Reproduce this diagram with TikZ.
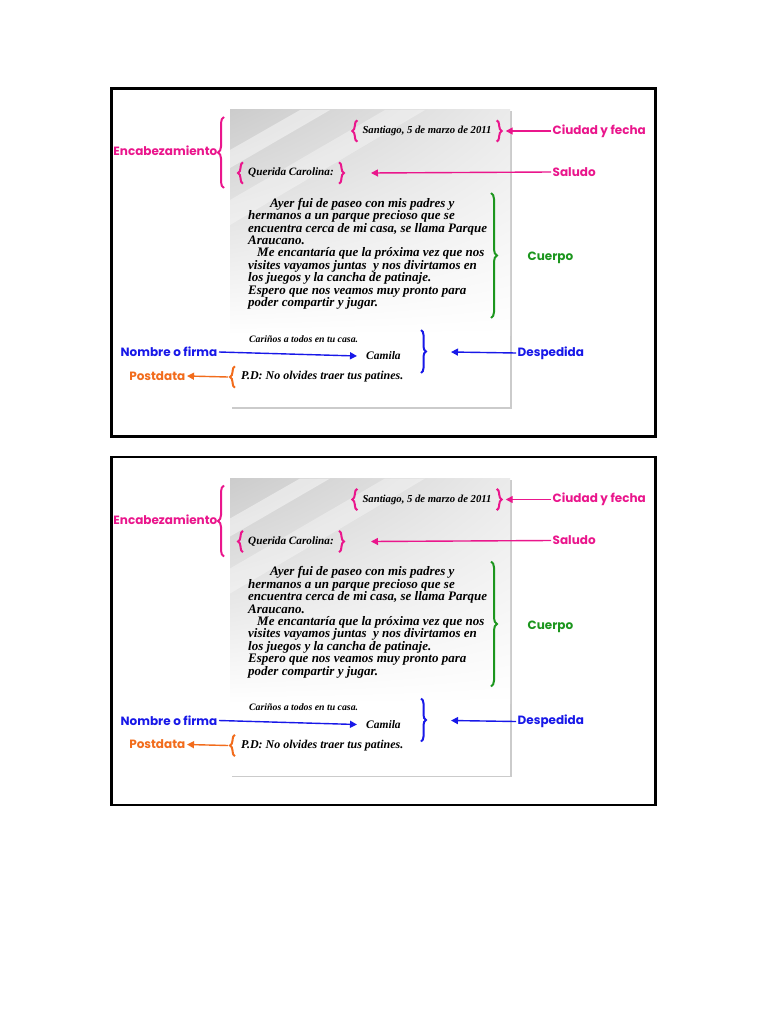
\documentclass[tikz,border=0pt]{standalone}
\usepackage{fontspec}
\newfontfamily\lblfont{Poppins}
\newfontfamily\cartafont{Liberation Serif}
\usetikzlibrary{arrows.meta,decorations.pathreplacing,shadows,shadings}

\definecolor{rosa}{RGB}{234,22,140}
\definecolor{azul}{RGB}{24,24,232}
\definecolor{verde}{RGB}{28,150,30}
\definecolor{naranja}{RGB}{242,108,28}

\begin{document}
\begin{tikzpicture}[x=1pt,y=-1pt,
    frame/.style={draw=black,line width=2.6pt},
    lbl/.style={font=\lblfont\bfseries\fontsize{12}{14}\selectfont,inner sep=1.5pt},
    carta/.style={font=\cartafont\bfseries\itshape\fontsize{13}{12.4}\selectfont,inner sep=0pt},
    braced/.style={minimum height=21pt,inner xsep=5pt},
    brc/.style={decorate,decoration={brace,amplitude=5pt},line width=2pt},
    ptr/.style={-{Triangle[length=7pt,width=7pt]},line width=1.4pt}]
  \useasboundingbox[fill=white] (0,0) rectangle (768,1024);
  \foreach \p/\dy in {a/0,b/368.5} {
  \begin{scope}[shift={(0,\dy)}]
    \draw[frame] (111.5,88.5) rectangle (655.5,436.5);
    % hoja de la carta
    \path[fill=white,drop shadow={shadow xshift=1.5pt,shadow yshift=-1.5pt,fill=black!40}]
      (230,110) rectangle (510,407);
    \begin{scope}
      \clip (230,110) rectangle (510,407);
      \shade[upper left=black!20,upper right=black!8,lower left=white,lower right=white]
        (230,110) rectangle (510,335);
      \fill[white,opacity=.45] (230,150) -- (300,110) -- (330,110) -- (230,168) -- cycle;
      \fill[white,opacity=.35] (230,200) -- (385,110) -- (425,110) -- (230,225) -- cycle;
    \end{scope}
    % encabezamiento
    \node[lbl,text=rosa,anchor=east] (\p-enc) at (219,151) {Encabezamiento};
    \draw[brc,rosa,decoration={amplitude=6pt}] (224,188) -- (224,117);
    \node[carta,braced,font=\cartafont\bfseries\itshape\fontsize{10.7}{11}\selectfont] (\p-fecha) at (427,131) {Santiago, 5 de marzo de 2011};
    \draw[brc,rosa] (\p-fecha.south west) -- (\p-fecha.north west);
    \draw[brc,rosa] (\p-fecha.north east) -- (\p-fecha.south east);
    \node[lbl,text=rosa,anchor=west] (\p-ciudad) at (551,131) {Ciudad y fecha};
    \draw[ptr,rosa] (\p-ciudad.west) -- ([xshift=9pt]\p-fecha.east);
    % saludo
    \node[carta,braced,font=\cartafont\bfseries\itshape\fontsize{11.2}{12}\selectfont] (\p-querida) at (291,173) {Querida Carolina:};
    \draw[brc,rosa] (\p-querida.south west) -- (\p-querida.north west);
    \draw[brc,rosa] (\p-querida.north east) -- (\p-querida.south east);
    \node[lbl,text=rosa,anchor=west] (\p-saludo) at (551,172) {Saludo};
    \draw[ptr,rosa] (\p-saludo.west) -- ([xshift=32pt]\p-querida.east);
    % cuerpo
    \node[carta,anchor=north west,align=left] (\p-cuerpo) at (248,198)
      {\hspace*{22pt}Ayer fui de paseo con mis padres y\\
       hermanos a un parque precioso que se\\
       encuentra cerca de mi casa, se llama Parque\\
       Araucano.\\
       \hspace*{9pt}Me encantaría que la próxima vez que nos\\
       visites vayamos juntas\ \ y nos divirtamos en\\
       los juegos y la cancha de patinaje.\\
       Espero que nos veamos muy pronto para\\
       poder compartir y jugar.};
    \draw[brc,verde,decoration={amplitude=6pt}] (491,193) -- (491,318);
    \node[lbl,text=verde,anchor=west] (\p-cuerpolbl) at (526,258) {Cuerpo};
    % despedida
    \node[carta,anchor=west,font=\cartafont\bfseries\itshape\fontsize{9.8}{11}\selectfont] (\p-carinos) at (249,339) {Cariños a todos en tu casa.};
    \node[carta,anchor=west,font=\cartafont\bfseries\itshape\fontsize{11.5}{12}\selectfont] (\p-camila) at (366,356) {Camila};
    \coordinate (\p-despb) at (421,352);
    \draw[brc,azul] (421,330) -- (421,373);
    \node[lbl,text=azul,anchor=west] (\p-desp) at (516,353) {Despedida};
    \draw[ptr,azul] (\p-desp.west) -- ([xshift=30pt]\p-despb);
    \node[lbl,text=azul,anchor=east] (\p-nombre) at (219,352) {Nombre o firma};
    \draw[ptr,azul] (\p-nombre.east) -- ([xshift=-9pt]\p-camila.west);
    % postdata
    \node[carta,braced,anchor=west,inner xsep=6pt,font=\cartafont\bfseries\itshape\fontsize{12}{12}\selectfont] (\p-pd) at (235,377) {P.D: No olvides traer tus patines.};
    \draw[brc,naranja] (\p-pd.south west) -- (\p-pd.north west);
    \node[lbl,text=naranja,anchor=east] (\p-post) at (187,376) {Postdata};
    \draw[ptr,naranja] ([xshift=-7pt]\p-pd.west) -- (\p-post.east);
  \end{scope}
  }
\end{tikzpicture}
\end{document}
